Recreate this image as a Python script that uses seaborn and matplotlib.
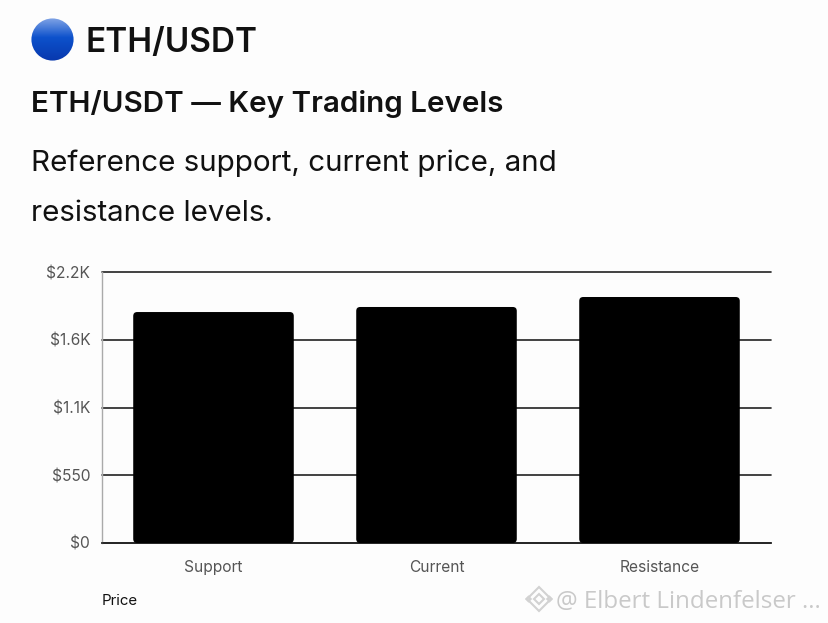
import numpy as np
import pandas as pd
import matplotlib
matplotlib.use('Agg')
import matplotlib.pyplot as plt
import seaborn as sns
from matplotlib.patches import FancyBboxPatch, Circle, RegularPolygon

levels = ['Support', 'Current', 'Resistance']
prices = [1875, 1916, 1997]
tick_values = [0, 550, 1100, 1650, 2200]
tick_labels = ['$0', '$550', '$1.1K', '$1.6K', '$2.2K']

W, H = 829, 623
BG = '#fdfdfd'

sns.set_theme(style='white')
plt.rcParams['font.family'] = ['Inter', 'DejaVu Sans']

fig = plt.figure(figsize=(W / 100, H / 100), dpi=100, facecolor=BG)
ax = fig.add_axes([102 / W, 1 - 543 / H, (771 - 102) / W, (543 - 272) / H], facecolor=BG)

data = pd.DataFrame({'level': levels, 'price': prices})
sns.barplot(data=data, x='level', y='price', color='black', saturation=1, width=0.72, ax=ax, zorder=3)

ax.set_xlim(-0.5, 2.5)
ax.set_ylim(0, 2200)
ax.set_yticks(tick_values)
ax.set_yticklabels(tick_labels)
ax.set_xlabel('')
ax.set_ylabel('')
ax.grid(axis='y', color='#222222', lw=1.2, zorder=1, clip_on=False)
ax.tick_params(axis='both', length=0, labelsize=11.2, labelcolor='#555555')
ax.tick_params(axis='y', pad=8.5)
ax.tick_params(axis='x', pad=12.3)
sns.despine(ax=ax, top=True, right=True)
ax.spines['left'].set_color('#aaaaaa')
ax.spines['left'].set_linewidth(1)
ax.spines['bottom'].set_color('#222222')
ax.spines['bottom'].set_linewidth(1.2)

# rounded corners on the bars
px_x = 3 / (771 - 102)
px_y = 2200 / (543 - 272)
for bar in list(ax.patches):
    rounded = FancyBboxPatch(
        (bar.get_x(), bar.get_y()), bar.get_width(), bar.get_height(),
        boxstyle=f'round,pad=0,rounding_size={4 * px_x}',
        mutation_aspect=px_y / px_x, fc='black', ec='none', zorder=3)
    bar.remove()
    ax.add_patch(rounded)

# heading text
fig.text(86 / W, 1 - 52 / H, 'ETH/USDT', fontsize=24, fontweight='semibold', color='#111111')
fig.text(31 / W, 1 - 112 / H, 'ETH/USDT — Key Trading Levels', fontsize=21.3, fontweight='semibold', color='#111111')
fig.text(31 / W, 1 - 171 / H, 'Reference support, current price, and', fontsize=21.3, color='#111111')
fig.text(31 / W, 1 - 221 / H, 'resistance levels.', fontsize=21.3, color='#111111')
fig.text(102 / W, 1 - 605 / H, 'Price', fontsize=10.8, color='#111111')

# blue circle emoji
icon = fig.add_axes([31 / W, 1 - 61 / H, 43 / W, 43 / H])
yy = np.linspace(0, 1, 64)[:, None]
blue_top = np.array([0.50, 0.64, 0.90])
blue_mid = np.array([0.05, 0.32, 0.80])
blue_low = np.array([0.03, 0.22, 0.68])
grad = np.where(yy < 0.45, blue_top + (blue_mid - blue_top) * yy / 0.45, blue_mid + (blue_low - blue_mid) * (yy - 0.45) / 0.55)
img = icon.imshow(grad[:, None, :].repeat(64, axis=1), extent=(0, 1, 0, 1), aspect='auto')
img.set_clip_path(Circle((0.5, 0.5), 0.49, transform=icon.transData))
icon.axis('off')

# watermark
fig.text(556 / W, 1 - 607.5 / H, '@ Elbert Lindenfelser ...', fontsize=17.4, color='#c9c9c9', family='Open Sans')
logo = fig.add_axes([525 / W, 1 - 613 / H, 28 / W, 28 / H])
logo.set_xlim(0, 28)
logo.set_ylim(0, 28)
logo.axis('off')
for cx, cy, r in [(14, 14, 12), (14, 14, 5), (3.5, 14, 2.2), (24.5, 14, 2.2)]:
    logo.add_patch(RegularPolygon((cx, cy), 4, radius=r, fill=False, ec='#d2d2d2', lw=1.5))

fig.savefig('out.png', dpi=100, facecolor=BG)
